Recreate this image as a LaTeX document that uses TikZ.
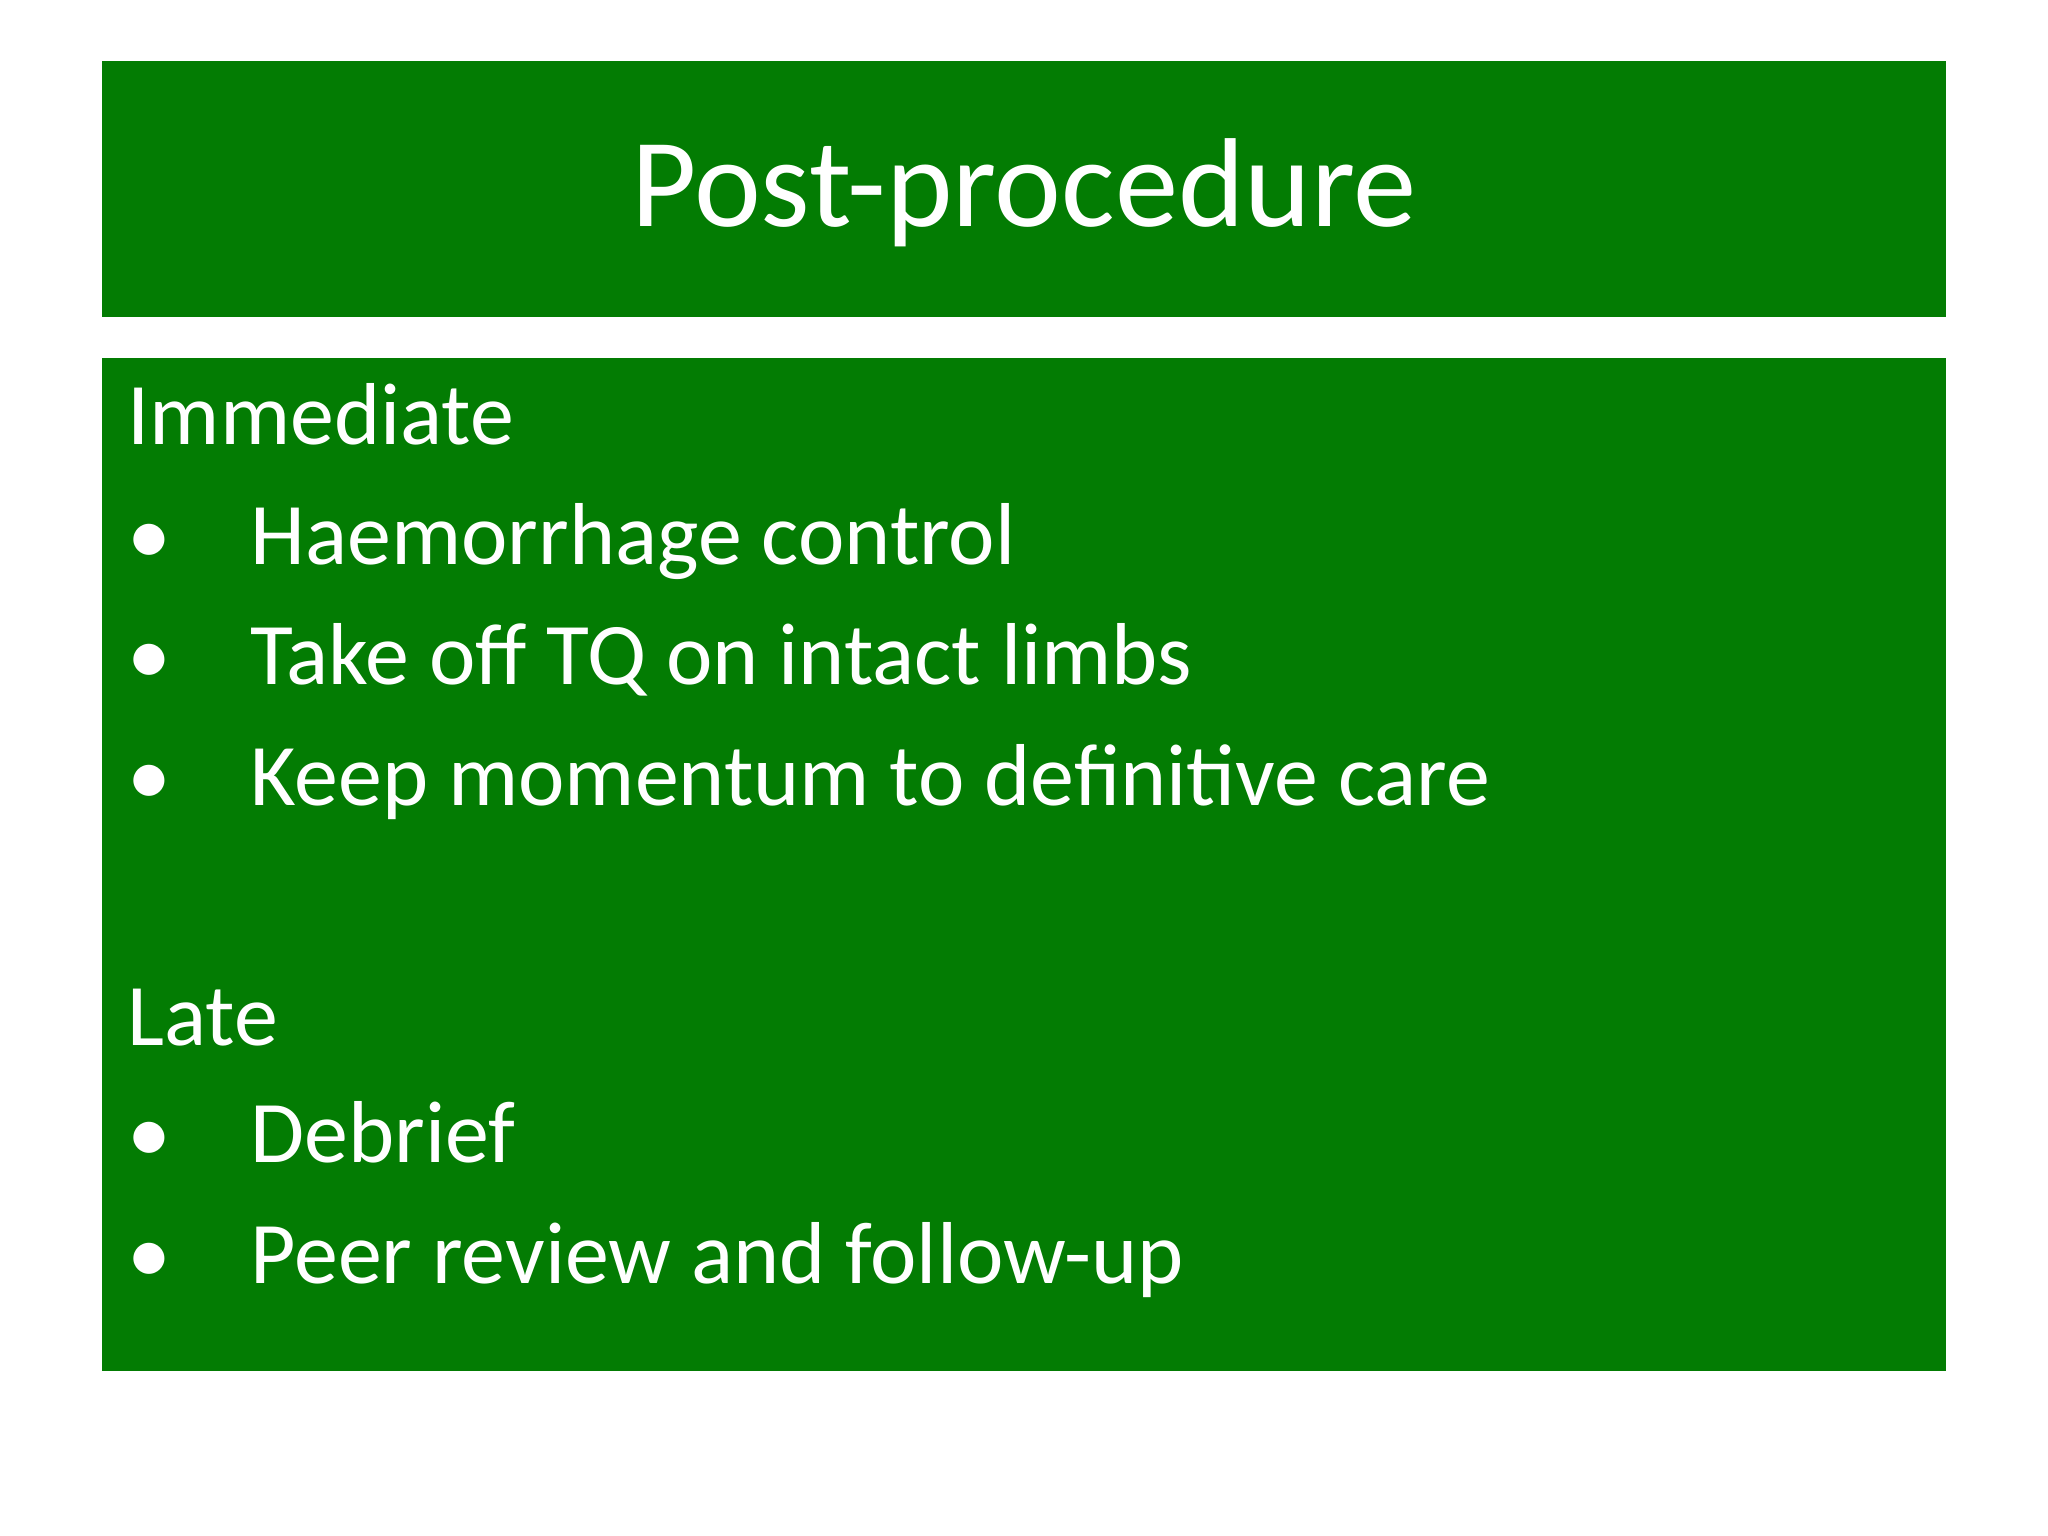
\documentclass[tikz,border=0pt]{standalone}
\usepackage{fontspec}
\setmainfont{Carlito}
\definecolor{slidegreen}{HTML}{037C03}
\begin{document}
\begin{tikzpicture}[x=0.01cm,y=-0.01cm,
  panel/.style={fill=slidegreen, draw=none},
  head/.style={text=white, anchor=base west, inner sep=0pt, font=\fontsize{25}{30}\selectfont},
  item/.style={text=white, anchor=base west, inner sep=0pt, font=\fontsize{25}{30}\selectfont}]
  \useasboundingbox (0,0) rectangle (2048,1536);

  \fill[panel] (102,61) rectangle (1946,317);
  \node[text=white, font=\fontsize{36}{42}\selectfont] (title) at (1024,193) {Post-procedure};

  \fill[panel] (102,358) rectangle (1946,1371);

  \node[head] (imm) at (127,444) {Immediate};
  \node[item] (i1) at (127,564) {•\hspace{0.9em}Haemorrhage control};
  \node[item] (i2) at (127,684) {•\hspace{0.9em}Take off TQ on intact limbs};
  \node[item] (i3) at (127,805) {•\hspace{0.9em}Keep momentum to definitive care};

  \node[head] (late) at (127,1045) {Late};
  \node[item] (l1) at (127,1162) {•\hspace{0.9em}Debrief};
  \node[item] (l2) at (127,1283) {•\hspace{0.9em}Peer review and follow-up};
\end{tikzpicture}
\end{document}
